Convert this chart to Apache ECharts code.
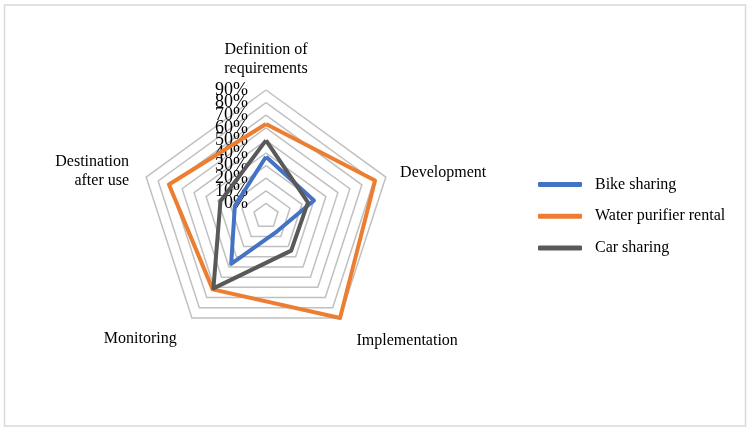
<!DOCTYPE html>
<html>
<head>
<meta charset="utf-8">
<script src="https://cdn.jsdelivr.net/npm/echarts@6/dist/echarts.min.js"></script>
<style>
html,body{margin:0;padding:0;background:#fff;}
#main{width:753px;height:434px;}
</style>
</head>
<body>
<div id="main"></div>
<script>
var categories = ['Definition of\nrequirements', 'Development', 'Implementation', 'Monitoring', 'Destination\nafter use'];
var seriesNames = ['Bike sharing', 'Water purifier rental', 'Car sharing'];
var bikeSharing = [37, 30, 5, 37, 16];
var waterPurifierRental = [63, 81, 90, 62, 71];
var carSharing = [50, 25, 24, 61, 28];
var axisMin = -10, axisMax = 90;

var FONT = '"Liberation Serif", "Times New Roman", serif';
var colors = ['#4472C4', '#ED7D31', '#595959'];
var nameGaps = [12, 15, 28, 26, 18];

// ECharts radar runs counter-clockwise; the reference runs clockwise from the top.
var order = [0, 4, 3, 2, 1];
function reorder(arr) { return order.map(function (i) { return arr[i]; }); }

var chart = echarts.init(document.getElementById('main'));
var orderedGaps = reorder(nameGaps);
var indicators = reorder(categories).map(function (c, i) {
  var o = { name: c, min: axisMin, max: axisMax, nameGap: orderedGaps[i] };
  if (i !== 0) o.axisLabel = { show: false };
  return o;
});
// Overlay radar used only to print the top "90%" label (ECharts hides one of two overlapping end labels)
var overlayIndicators = reorder(categories).map(function (c, i) {
  var o = { name: c, min: axisMin, max: axisMax };
  if (i !== 0) o.axisLabel = { show: false };
  return o;
});

var labelBase = {
  show: true,
  hideOverlap: false,
  color: '#000',
  fontFamily: FONT,
  fontSize: 18,
  margin: 18
};

var option = {
  animation: false,
  color: colors,
  graphic: [{
    type: 'rect',
    shape: { x: 4.5, y: 5, width: 741, height: 421 },
    style: { fill: 'none', stroke: '#d9d9d9', lineWidth: 1.5 },
    silent: true
  }],
  legend: {
    orient: 'vertical',
    left: 533,
    top: 171,
    itemWidth: 44,
    itemHeight: 5,
    itemGap: 14.7,
    icon: 'roundRect',
    data: seriesNames,
    textStyle: { fontFamily: FONT, fontSize: 16, color: '#000', lineHeight: 17, padding: [0, 0, 0, 8] }
  },
  radar: [{
    center: [266, 216],
    radius: 126,
    startAngle: 90,
    splitNumber: 10,
    shape: 'polygon',
    indicator: indicators,
    nameGap: 12,
    axisName: { color: '#000', fontFamily: FONT, fontSize: 16, lineHeight: 19 },
    axisLine: { show: false },
    axisTick: { show: false },
    splitArea: { show: false },
    splitLine: { lineStyle: { color: '#c0c0c0', width: 1.5 } },
    axisLabel: Object.assign({}, labelBase, {
      showMaxLabel: false,
      formatter: function (v) { return (v < 0 || v >= axisMax) ? '' : v + '%'; }
    })
  }, {
    center: [266, 216],
    radius: 126,
    startAngle: 90,
    splitNumber: 10,
    shape: 'polygon',
    indicator: overlayIndicators,
    axisName: { show: false },
    axisLine: { show: false },
    axisTick: { show: false },
    splitArea: { show: false },
    splitLine: { show: false },
    axisLabel: Object.assign({}, labelBase, {
      showMaxLabel: true,
      formatter: function (v) { return v === axisMax ? v + '%' : ''; }
    })
  }],
  series: [{
    type: 'radar',
    radarIndex: 0,
    symbol: 'none',
    data: [
      { name: seriesNames[0], value: reorder(bikeSharing), lineStyle: { width: 4, color: colors[0] }, itemStyle: { color: colors[0] } },
      { name: seriesNames[1], value: reorder(waterPurifierRental), lineStyle: { width: 4, color: colors[1] }, itemStyle: { color: colors[1] } },
      { name: seriesNames[2], value: reorder(carSharing), lineStyle: { width: 4, color: colors[2] }, itemStyle: { color: colors[2] } }
    ]
  }]
};
chart.setOption(option);
</script>
</body>
</html>
